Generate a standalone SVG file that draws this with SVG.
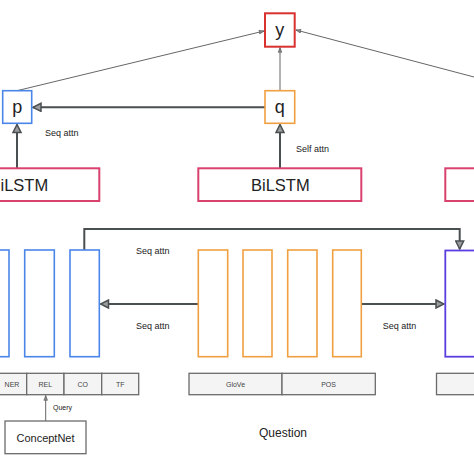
<svg xmlns="http://www.w3.org/2000/svg" width="474" height="474" viewBox="0 0 474 474">
<style>
.t{font-family:"Liberation Sans",Arial,sans-serif;fill:#222}
.lbl{font-size:9px}
.big{font-size:16.5px}
.cell{fill:#f4f4f4;stroke:#6b6b6b;stroke-width:1.3}
.cellt{font-family:"Liberation Sans",Arial,sans-serif;font-size:7px;fill:#444;text-anchor:middle}
.thick{stroke:#4a4f52;stroke-width:2;fill:none}
.thin{stroke:#666;stroke-width:1;fill:none}
.blue{fill:#fff;stroke:#4a86e8;stroke-width:1.6}
.orange{fill:#fff;stroke:#f0a040;stroke-width:1.6}
.pink{fill:#fff;stroke:#d9416e;stroke-width:2}
.purple{fill:#fff;stroke:#5b3ee0;stroke-width:1.8}
</style>
<defs>
<marker id="ah" viewBox="0 0 10 10" refX="9" refY="5" markerWidth="5" markerHeight="5" orient="auto" markerUnits="strokeWidth">
<path d="M1,1 L9,5 L1,9 Z" fill="#9a9c9e" stroke="#4a4f52" stroke-width="1.5"/>
</marker>
<marker id="as" viewBox="0 0 10 10" refX="9" refY="5" markerWidth="6" markerHeight="6" orient="auto" markerUnits="strokeWidth">
<path d="M1,2 L9,5 L1,8 Z" fill="#888" stroke="#555" stroke-width="1"/>
</marker>
</defs>
<rect width="474" height="474" fill="#fff"/>
<g id="connectors">
<line class="thin" x1="17" y1="90.7" x2="264" y2="31" marker-end="url(#as)"/>
<line class="thin" x1="280" y1="90.7" x2="280" y2="47.5" marker-end="url(#as)"/>
<line class="thin" x1="474" y1="77" x2="296" y2="30" marker-end="url(#as)"/>
<line class="thick" x1="265" y1="107.3" x2="33" y2="107.3" marker-end="url(#ah)"/>
<line class="thick" x1="17" y1="168" x2="17" y2="124.5" marker-end="url(#ah)"/>
<line class="thick" x1="280" y1="168" x2="280" y2="124.5" marker-end="url(#ah)"/>
<polyline class="thick" points="84.3,250 84.3,229 459.7,229 459.7,249" marker-end="url(#ah)"/>
<line class="thick" x1="198" y1="304" x2="100.5" y2="304" marker-end="url(#ah)"/>
<line class="thick" x1="361.5" y1="304" x2="444" y2="304" marker-end="url(#ah)"/>
<line class="thin" x1="45.7" y1="421" x2="45.7" y2="395.5" marker-end="url(#as)"/>
<text class="t lbl" x="45" y="136">Seq attn</text>
<text class="t lbl" x="296" y="152">Self attn</text>
<text class="t lbl" x="136" y="254">Seq attn</text>
<text class="t lbl" x="136" y="328.5">Seq attn</text>
<text class="t lbl" x="382.7" y="329">Seq attn</text>
<text class="t" x="53" y="410" font-size="7">Query</text>
</g>
<g id="y"><rect x="265" y="13.3" width="29.7" height="33.4" fill="#fff" stroke="#d93030" stroke-width="2"/><text class="t" font-size="18" x="279.8" y="36" text-anchor="middle">y</text></g>
<g id="p"><rect x="2.7" y="90.7" width="29" height="32.6" class="blue"/><text class="t" font-size="18" x="17.2" y="113" text-anchor="middle">p</text></g>
<g id="q"><rect x="265" y="90.7" width="29.7" height="32.6" class="orange"/><text class="t" font-size="18" x="279.8" y="113" text-anchor="middle">q</text></g>
<g id="bilstm-left"><rect x="-60" y="168.3" width="159.3" height="32.7" class="pink"/><text class="t big" x="0.5" y="191">iLSTM</text></g>
<g id="bilstm-mid"><rect x="198.3" y="168.3" width="163" height="32.7" class="pink"/><text class="t big" x="251" y="191">BiLSTM</text></g>
<g id="bilstm-right"><rect x="445.3" y="168.3" width="60" height="32.7" class="pink"/></g>
<g id="passage-vectors">
<rect x="-20" y="250" width="29" height="106.7" class="blue"/>
<rect x="24.7" y="250" width="29.6" height="106.7" class="blue"/>
<rect x="70" y="250" width="29.3" height="106.7" class="blue"/>
</g>
<g id="question-vectors">
<rect x="198.3" y="250" width="29.4" height="106.7" class="orange"/>
<rect x="243" y="250" width="29" height="106.7" class="orange"/>
<rect x="287.7" y="250" width="29.3" height="106.7" class="orange"/>
<rect x="332.7" y="250" width="28.6" height="106.7" class="orange"/>
</g>
<g id="choice-vector"><rect x="445.3" y="250.5" width="60" height="106.2" class="purple"/></g>
<g id="passage-features">
<rect x="-20" y="373.3" width="46.7" height="21.4" class="cell"/><text class="cellt" x="12" y="386.5">NER</text>
<rect x="26.7" y="373.3" width="37.3" height="21.4" class="cell"/><text class="cellt" x="45.3" y="386.5">REL</text>
<rect x="64" y="373.3" width="37.7" height="21.4" class="cell"/><text class="cellt" x="82.8" y="386.5">CO</text>
<rect x="101.7" y="373.3" width="37" height="21.4" class="cell"/><text class="cellt" x="120.2" y="386.5">TF</text>
</g>
<g id="question-features">
<rect x="189" y="373.3" width="93" height="21.4" class="cell"/><text class="cellt" x="235.5" y="386.5">GloVe</text>
<rect x="282" y="373.3" width="93.3" height="21.4" class="cell"/><text class="cellt" x="328.6" y="386.5">POS</text>
</g>
<g id="choice-features"><rect x="436.5" y="373.3" width="60" height="21.4" class="cell"/></g>
<g id="conceptnet"><rect x="5" y="421" width="81" height="32.7" fill="#fff" stroke="#6b6b6b" stroke-width="1.3"/><text class="t" x="45.5" y="441.5" font-size="11" text-anchor="middle">ConceptNet</text></g>
<g id="question-label"><text class="t" x="259" y="436.5" font-size="12">Question</text></g>
</svg>
